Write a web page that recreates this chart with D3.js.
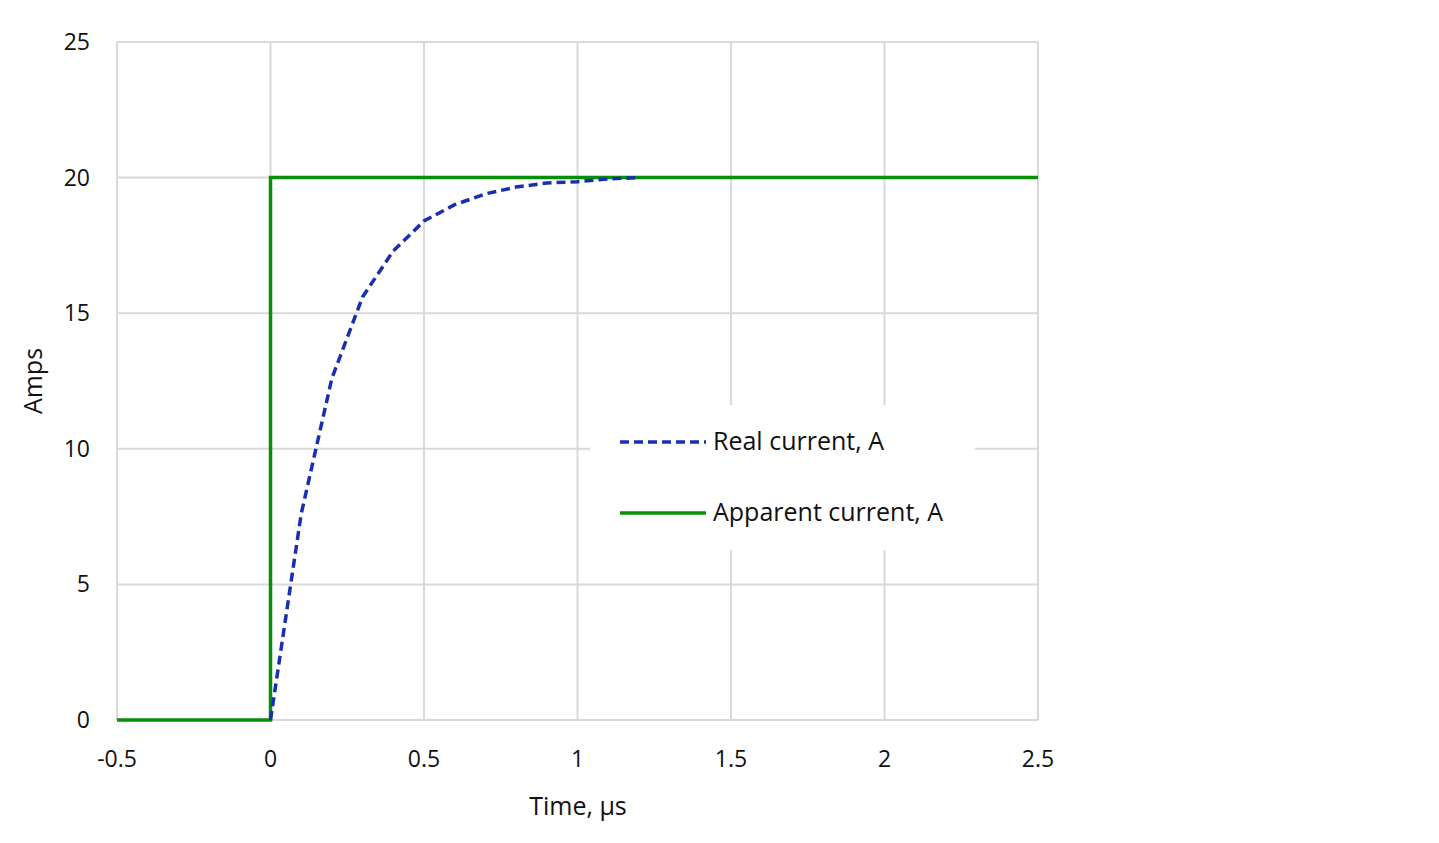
<!DOCTYPE html>
<html><head><meta charset="utf-8">
<script src="https://cdn.jsdelivr.net/npm/d3@7"></script>
<style>body{margin:0;background:#fff}text{font-family:"Open Sans",sans-serif;fill:#111}</style>
</head><body><svg id="c" width="1439" height="843"></svg>
<script>
const xTicks=[-0.5,0,0.5,1,1.5,2,2.5];
const yTicks=[0,5,10,15,20,25];
const realT=[0,0.1,0.2,0.3,0.4,0.5,0.6,0.7,0.8,0.9,1.0,1.1,1.2];
const realA=[0,7.6,12.6,15.6,17.3,18.4,19.0,19.4,19.65,19.8,19.85,19.95,20];
const appT=[-0.5,0,0,2.5];
const appA=[0,0,20,20];
const svg=d3.select("#c");
const x=d3.scaleLinear().domain([-0.5,2.5]).range([117,1038]);
const y=d3.scaleLinear().domain([0,25]).range([720,42]);
const g=svg.append("g");
xTicks.forEach(t=>g.append("line").attr("x1",x(t)).attr("x2",x(t)).attr("y1",y(25)).attr("y2",y(0)).attr("stroke","#d9d9d9").attr("stroke-width",2));
yTicks.forEach(t=>g.append("line").attr("x1",x(-0.5)).attr("x2",x(2.5)).attr("y1",y(t)).attr("y2",y(t)).attr("stroke","#d9d9d9").attr("stroke-width",2));
svg.append("rect").attr("x",590).attr("y",405).attr("width",385).attr("height",145).attr("fill","#fff");
xTicks.forEach(t=>svg.append("text").attr("x",x(t)).attr("y",767).attr("text-anchor","middle").attr("font-size",23).text(t));
yTicks.forEach(t=>svg.append("text").attr("x",90).attr("y",y(t)+8).attr("text-anchor","end").attr("font-size",23).text(t));
svg.append("text").attr("x",578).attr("y",815).attr("text-anchor","middle").attr("font-size",25).text("Time, μs");
svg.append("text").attr("transform","translate(42,381) rotate(-90)").attr("text-anchor","middle").attr("font-size",25).text("Amps");
const line=d3.line().x(d=>x(d[0])).y(d=>y(d[1]));
svg.append("path").attr("d",line(appT.map((t,i)=>[t,appA[i]]))).attr("fill","none").attr("stroke","#079007").attr("stroke-width",3.5);
svg.append("path").attr("d",line(realT.map((t,i)=>[t,realA[i]]))).attr("fill","none").attr("stroke","#1a2fb0").attr("stroke-width",3.5).attr("stroke-dasharray","9,5");
svg.append("line").attr("x1",620).attr("x2",706).attr("y1",442).attr("y2",442).attr("stroke","#1a2fb0").attr("stroke-width",3.5).attr("stroke-dasharray","9,5");
svg.append("line").attr("x1",620).attr("x2",706).attr("y1",513).attr("y2",513).attr("stroke","#079007").attr("stroke-width",3.5);
svg.append("text").attr("x",713).attr("y",450).attr("font-size",25).text("Real current, A");
svg.append("text").attr("x",713).attr("y",521).attr("font-size",25).text("Apparent current, A");
</script></body></html>
